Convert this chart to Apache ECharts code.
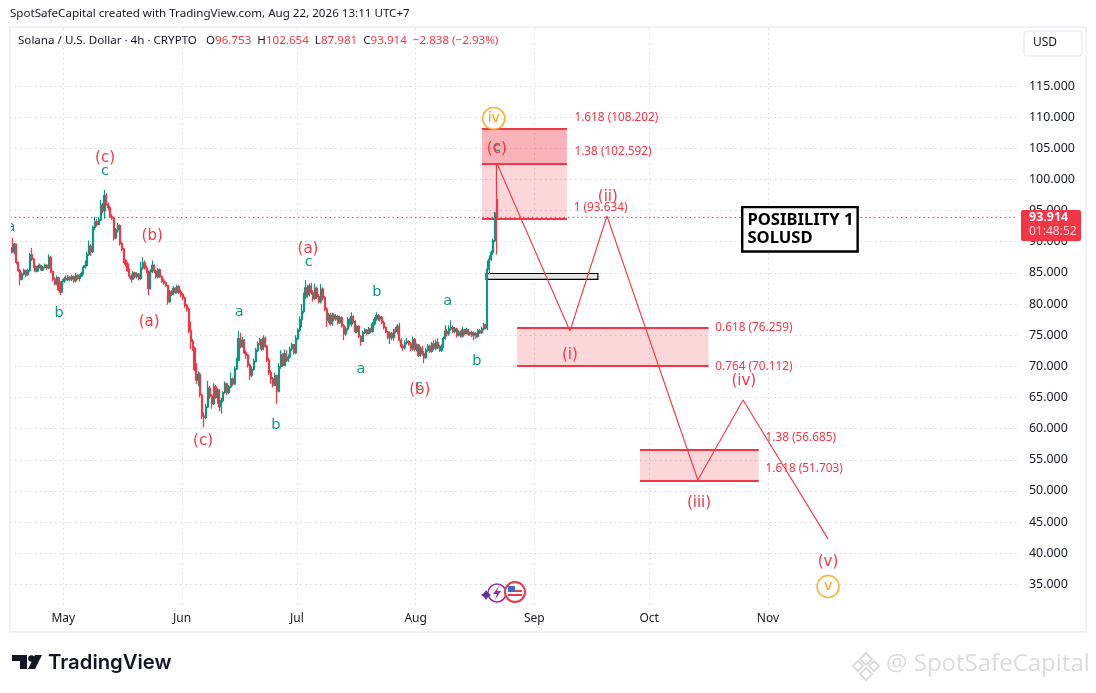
<!DOCTYPE html>
<html><head><meta charset="utf-8">
<style>html,body{margin:0;padding:0;background:#fff}#c{width:1096px;height:693px}</style>
<script src="https://cdn.jsdelivr.net/npm/echarts@6/dist/echarts.min.js"></script>
</head><body><div id="c"></div>
<script>
const candleOpens=[
88.2,89.0,88.4,89.6,86.7,85.4,84.0,84.8,85.4,84.7,
85.4,87.9,87.2,86.0,85.3,85.9,86.2,85.5,85.9,86.2,
85.8,87.5,85.2,84.0,83.2,84.2,82.3,81.9,83.6,84.1,
83.9,84.3,84.0,84.4,83.7,84.6,84.1,84.5,84.9,85.9,
86.2,88.0,89.3,88.4,92.3,93.2,92.8,93.5,95.9,95.0,
97.4,96.0,95.5,94.0,93.8,90.6,91.9,92.6,89.7,88.8,
87.0,86.4,85.4,84.5,84.0,85.0,84.4,84.8,84.1,85.8,
86.6,85.8,85.3,82.5,85.2,86.2,85.3,84.4,85.5,84.4,
83.7,83.4,83.0,80.4,82.0,81.6,82.5,81.9,82.8,81.9,
81.5,81.0,79.8,79.2,75.7,74.0,72.9,69.5,67.8,68.7,
65.4,62.0,61.8,63.5,66.5,65.2,64.0,66.7,65.0,66.2,
63.5,64.5,65.8,67.2,65.8,66.7,68.0,67.2,69.6,71.0,
74.4,73.2,74.2,72.2,71.8,70.2,68.6,69.5,70.8,72.6,
73.6,74.2,72.8,74.5,73.2,71.0,69.0,68.0,67.0,68.5,
66.0,70.0,71.8,70.2,72.0,71.0,71.5,72.8,73.5,72.2,
74.5,75.8,77.5,78.8,81.2,82.6,81.5,82.9,81.8,80.9,
82.5,81.2,80.4,82.4,81.0,79.2,77.4,78.2,76.8,78.2,
77.6,78.0,77.0,77.8,76.5,75.2,76.0,77.5,76.8,78.0,
77.2,75.6,76.4,74.8,74.0,75.4,75.8,75.3,76.0,75.6,
76.8,77.5,78.2,77.6,77.9,77.0,76.2,75.5,74.6,75.3,
74.6,75.8,75.6,76.4,74.2,73.2,73.0,73.8,74.0,73.6,
72.8,74.3,72.7,73.4,71.8,72.9,72.0,71.4,72.6,73.2,
72.4,73.6,72.9,73.8,73.0,72.6,73.2,74.5,75.6,75.2,
76.0,76.2,75.6,76.0,75.0,75.5,74.9,75.8,75.3,75.9,
75.2,75.4,75.0,75.3,74.8,75.7,75.4,76.0,76.6,76.2,
85.6,87.2,88.3,90.2,96.753];
const candleCloses=[
89.0,88.4,89.6,86.7,85.4,84.0,84.8,85.4,84.7,85.4,
87.9,87.2,86.0,85.3,85.9,86.2,85.5,85.9,86.2,85.8,
87.5,85.2,84.0,83.2,84.2,82.3,81.9,83.6,84.1,83.9,
84.3,84.0,84.4,83.7,84.6,84.1,84.5,84.9,85.9,86.2,
88.0,89.3,88.4,92.3,93.2,92.8,93.5,95.9,95.0,97.4,
96.0,95.5,94.0,93.8,90.6,91.9,92.6,89.7,88.8,87.0,
86.4,85.4,84.5,84.0,85.0,84.4,84.8,84.1,85.8,86.6,
85.8,85.3,82.5,85.2,86.2,85.3,84.4,85.5,84.4,83.7,
83.4,83.0,80.4,82.0,81.6,82.5,81.9,82.8,81.9,81.5,
81.0,79.8,79.2,75.7,74.0,72.9,69.5,67.8,68.7,65.4,
62.0,61.8,63.5,66.5,65.2,64.0,66.7,65.0,66.2,63.5,
64.5,65.8,67.2,65.8,66.7,68.0,67.2,69.6,71.0,74.4,
73.2,74.2,72.2,71.8,70.2,68.6,69.5,70.8,72.6,73.6,
74.2,72.8,74.5,73.2,71.0,69.0,68.0,67.0,68.5,66.0,
70.0,71.8,70.2,72.0,71.0,71.5,72.8,73.5,72.2,74.5,
75.8,77.5,78.8,81.2,82.6,81.5,82.9,81.8,80.9,82.5,
81.2,80.4,82.4,81.0,79.2,77.4,78.2,76.8,78.2,77.6,
78.0,77.0,77.8,76.5,75.2,76.0,77.5,76.8,78.0,77.2,
75.6,76.4,74.8,74.0,75.4,75.8,75.3,76.0,75.6,76.8,
77.5,78.2,77.6,77.9,77.0,76.2,75.5,74.6,75.3,74.6,
75.8,75.6,76.4,74.2,73.2,73.0,73.8,74.0,73.6,72.8,
74.3,72.7,73.4,71.8,72.9,72.0,71.4,72.6,73.2,72.4,
73.6,72.9,73.8,73.0,72.6,73.2,74.5,75.6,75.2,76.0,
76.2,75.6,76.0,75.0,75.5,74.9,75.8,75.3,75.9,75.2,
75.4,75.0,75.3,74.8,75.7,75.4,76.0,76.6,76.2,85.6,
87.2,88.3,90.2,94.6,93.914];
const candleHighs=[
89.4,90.6,89.8,89.7,86.8,85.6,85.1,85.7,85.5,85.7,
88.2,89.0,87.4,86.2,86.2,86.5,86.3,86.1,86.5,86.4,
88.0,87.7,85.4,84.3,84.6,84.4,83.6,84.0,84.4,84.6,
84.7,84.5,84.7,84.6,85.0,84.8,84.8,85.2,86.2,87.0,
88.4,90.2,89.6,92.6,94.0,93.6,94.0,96.7,96.2,98.3,
97.8,96.3,95.8,94.4,94.0,92.2,93.0,92.8,90.0,89.0,
87.2,86.7,85.7,84.8,85.3,85.2,85.1,85.0,86.8,87.5,
87.0,86.2,85.4,85.6,87.0,86.4,85.5,85.8,85.7,84.6,
84.0,83.6,83.1,82.3,82.2,82.9,82.7,83.1,83.0,82.3,
81.8,81.2,80.0,79.5,77.2,74.4,73.2,70.5,69.2,69.0,
65.6,62.6,64.0,67.7,66.9,65.5,67.3,67.0,66.5,66.4,
64.9,66.0,67.6,67.4,67.0,69.0,68.2,70.0,71.4,75.7,
75.4,74.7,74.4,72.6,72.0,70.5,70.0,71.2,73.0,74.0,
74.6,74.4,75.0,74.8,73.4,71.4,69.4,68.3,69.0,68.7,
70.5,72.6,72.1,72.7,72.6,71.9,73.2,73.8,73.6,75.0,
76.1,78.0,80.0,81.8,83.8,83.1,83.3,83.4,82.2,83.3,
82.8,81.6,83.2,82.7,81.3,79.5,78.6,78.6,78.6,78.5,
78.4,78.2,78.1,78.0,76.8,76.4,77.9,77.8,78.7,78.2,
77.4,76.6,76.6,75.0,75.7,76.1,76.0,76.3,76.2,77.1,
77.9,78.7,78.4,78.2,78.1,77.3,76.4,75.7,75.6,75.5,
76.0,76.3,76.8,77.0,74.5,73.6,74.2,74.6,74.2,73.9,
74.8,74.5,73.7,73.6,73.2,73.3,72.5,72.9,73.6,73.5,
73.9,74.2,74.3,74.5,73.4,73.5,74.8,76.6,76.0,76.6,
77.4,76.5,76.3,76.2,75.8,75.7,76.3,76.0,76.2,76.0,
75.6,75.7,75.6,75.5,76.0,76.0,76.4,77.0,76.8,87.0,
87.8,88.6,90.5,94.8,102.654];
const candleLows=[
87.6,88.2,88.0,86.4,85.1,83.0,83.8,84.6,84.3,84.5,
85.2,86.9,85.8,85.1,85.1,85.7,85.3,85.3,85.7,85.5,
85.6,85.0,83.7,83.0,83.0,82.1,81.4,81.8,83.4,83.6,
83.7,83.6,83.7,83.4,83.5,83.9,83.6,84.3,84.7,85.7,
86.0,87.7,87.7,88.2,91.9,92.4,92.6,93.3,94.6,93.7,
95.8,95.0,93.8,93.5,90.2,90.4,91.5,89.4,88.5,86.6,
86.0,85.2,84.1,83.4,83.8,84.1,84.1,83.8,83.9,85.5,
85.5,85.0,81.4,82.3,85.0,85.0,84.1,84.1,84.2,83.4,
83.1,82.7,79.9,80.2,81.3,81.4,81.7,81.7,81.6,81.1,
80.6,79.4,78.8,75.3,72.8,72.5,69.2,67.2,66.8,65.0,
61.5,60.2,61.5,63.3,64.8,63.2,63.8,64.8,64.0,62.8,
62.4,64.2,65.6,65.4,65.5,66.5,66.9,67.0,69.4,70.8,
72.9,73.0,72.0,71.2,69.8,67.8,68.2,69.3,70.6,72.3,
73.4,72.5,72.6,73.0,70.7,68.6,67.2,66.6,66.8,64.0,
65.8,69.6,69.9,70.0,70.7,70.7,71.2,72.5,71.9,72.0,
74.2,75.5,76.3,78.5,80.8,81.0,81.2,81.5,80.4,80.6,
80.8,80.1,80.1,80.6,78.9,76.3,77.0,76.5,76.5,77.2,
77.3,76.7,76.8,76.2,74.2,74.9,75.7,76.4,76.4,76.9,
75.3,75.3,74.5,73.3,73.9,75.2,75.0,75.1,75.3,75.4,
76.6,77.3,77.3,77.2,76.8,75.9,75.3,74.3,73.6,74.2,
74.1,75.3,75.1,74.0,72.9,72.5,72.7,73.5,73.3,72.4,
72.5,72.4,72.4,71.5,71.5,71.7,70.5,71.2,72.3,72.1,
72.2,72.6,72.6,72.8,72.3,72.3,73.0,74.3,74.8,74.9,
75.7,75.3,75.3,74.6,74.8,74.6,74.6,75.0,75.1,74.9,
74.9,74.7,74.2,74.4,74.6,75.2,75.2,75.8,75.9,75.8,
84.8,86.9,87.9,89.9,87.981];

// time positions are "days since 1 May"
const firstCandleDay=-13.75, candleStepDays=0.5;
const monthLabels=['May','Jun','Jul','Aug','Sep','Oct','Nov'];
const monthDays=[0,31,61,92,123,153,184];
const priceTicks=[35,40,45,50,55,60,65,70,75,80,85,90,95,100,105,110,115];
const lastPrice=93.914;
const viewDays=[-13.92,249.3];

const projectionDays=[113.2,132.3,141.96,165.7,177.5,199.7];
const projectionPrices=[102.65,75.67,94.13,51.76,64.6,42.3];

const zoneDays=[[109.3,131.5],[118.5,168.5],[150.6,181.6]];
const zoneLight=[[93.634,102.592],[70.112,76.259],[51.703,56.685]];
const zoneDark=[102.592,108.202];
const fibLevelDays=[[109.3,131.5],[109.3,131.5],[109.3,131.5],[118.5,168.5],[118.5,168.5],[150.6,181.6],[150.6,181.6]];
const fibLevelPrices=[108.202,102.592,93.634,76.259,70.112,56.685,51.703];
const fibTexts=['1.618 (108.202)','1.38 (102.592)','1 (93.634)','0.618 (76.259)','0.764 (70.112)','1.38 (56.685)','1.618 (51.703)'];
const fibTextDays=[133.6,133.6,133.4,170.4,170.4,183.5,183.5];
const fibTextPrices=[110.0,104.4,95.4,76.2,69.9,58.6,53.5];
const boxDays=[110.4,139.6], boxPrices=[83.95,84.9];

const redTexts=['(c)','(b)','(a)','(c)','(a)','(b)','(c)','(ii)','(i)','(iv)','(iii)','(v)'];
const redDays=[10.9,23.2,22.4,36.5,63.9,93.1,113.2,142.2,132.3,177.7,166,199.7];
const redPrices=[103.4,90.9,77.1,58.0,88.8,66.2,104.85,97.1,71.8,67.6,48.0,38.6];
const greenTexts=['a','c','b','a','b','c','b','a','a','b','c','c'];
const greenDays=[-13.7,10.9,-1.1,45.9,55.5,64.1,81.9,100.4,77.7,108,92.9,113.2];
const greenPrices=[92.35,101.35,78.45,78.75,60.55,86.75,81.95,80.45,69.55,70.85,66.85,105.25];
const circleTexts=['iv','v'];
const circleDays=[112.4,199.7];
const circlePrices=[109.8,34.65];
const noteText='POSIBILITY 1\nSOLUSD';
const noteDay=[177.6], notePrice=[92.0];

const RED='#f23645', GREEN='#089981', ORANGE='#ff9800';
const labelFont='"DejaVu Sans"', uiFont='"Noto Sans"';
const DOTS=[1.5,3.5], GRIDC='#d6d8dc';

const candleData=candleOpens.map((o,i)=>[firstCandleDay+i*candleStepDays,o,candleCloses[i],candleLows[i],candleHighs[i]]);
const textPoints=(days,prices,texts)=>days.map((d,i)=>({value:[d,prices[i]],label:{formatter:texts[i]}}));
const baseLabel=(color,size)=>({show:true,position:'inside',color,fontSize:size,fontFamily:labelFont,textBorderWidth:0,textBorderColor:'transparent',opacity:1});

function labelSeries(name,days,prices,texts,color,size,extra){
  return Object.assign({name,type:'scatter',symbol:'circle',symbolSize:1,z:6,silent:true,clip:false,
    itemStyle:{color:'rgba(0,0,0,0)',opacity:1},
    label:baseLabel(color,size),
    labelLayout:{hideOverlap:false},
    data:textPoints(days,prices,texts)},extra||{});
}

const zoneAreas=[
  [{coord:[zoneDays[0][0],zoneLight[0][0]]},{coord:[zoneDays[0][1],zoneLight[0][1]]}],
  [{coord:[zoneDays[0][0],zoneDark[0]],itemStyle:{color:'rgba(242,54,69,0.38)'}},{coord:[zoneDays[0][1],zoneDark[1]]}],
  [{coord:[zoneDays[1][0],zoneLight[1][0]]},{coord:[zoneDays[1][1],zoneLight[1][1]]}],
  [{coord:[zoneDays[2][0],zoneLight[2][0]]},{coord:[zoneDays[2][1],zoneLight[2][1]]}],
  [{coord:[boxDays[0],boxPrices[0]],itemStyle:{color:'#e6e6e6',borderColor:'#000',borderWidth:1.2}},{coord:[boxDays[1],boxPrices[1]]}]
];
const fibLines=fibLevelPrices.map((p,i)=>[{coord:[fibLevelDays[i][0],p]},{coord:[fibLevelDays[i][1],p]}]);

const option={
  animation:false,
  backgroundColor:'#fff',
  grid:{left:10,right:78,top:28,bottom:87},
  xAxis:{type:'value',min:viewDays[0],max:viewDays[1],
    axisLine:{show:false},
    axisTick:{show:false,customValues:monthDays},
    splitLine:{show:true,customValues:monthDays,lineStyle:{color:GRIDC,type:DOTS,width:1}},
    axisLabel:{customValues:monthDays,margin:7,color:'#131722',fontSize:12,fontFamily:uiFont,hideOverlap:false,
      formatter:v=>monthLabels[monthDays.indexOf(+v)]||''}
  },
  yAxis:{type:'value',position:'right',min:31.53,max:124.31,
    axisLine:{show:false},
    axisTick:{show:false,customValues:priceTicks},
    splitLine:{show:true,customValues:priceTicks,lineStyle:{color:GRIDC,type:DOTS,width:1}},
    axisLabel:{customValues:priceTicks,margin:11,color:'#131722',fontSize:12.4,fontFamily:uiFont,
      formatter:v=>Number(v).toFixed(3)}
  },
  series:[
    {name:'zones',type:'scatter',data:[],z:1,silent:true,
      markArea:{silent:true,itemStyle:{color:'rgba(242,54,69,0.2)'},data:zoneAreas,z:1},
      markLine:{silent:true,symbol:'none',label:{show:false},lineStyle:{color:RED,width:2,type:'solid'},data:fibLines,z:1}},
    {name:'priceLine',type:'line',z:2,symbol:'none',silent:true,lineStyle:{color:RED,width:1,type:[1.5,3]},
      data:viewDays.map(d=>[d,lastPrice])},
    {name:'SOLUSD',type:'candlestick',z:3,barWidth:1.6,silent:true,
      encode:{x:0,y:[1,2,3,4]},
      itemStyle:{color:GREEN,color0:RED,borderColor:GREEN,borderColor0:RED,borderWidth:1.2},
      data:candleData},
    {name:'projection',type:'line',z:4,symbol:'none',silent:true,lineStyle:{color:RED,width:1.1},
      data:projectionDays.map((d,i)=>[d,projectionPrices[i]])},
    labelSeries('fib',fibTextDays,fibTextPrices,fibTexts,RED,11.8,{label:Object.assign(baseLabel(RED,11.8),{position:'right',distance:-1,fontFamily:uiFont})}),
    labelSeries('green',greenDays,greenPrices,greenTexts,GREEN,14.5),
    labelSeries('red',redDays,redPrices,redTexts,RED,15,{z:7}),
    labelSeries('circled',circleDays,circlePrices,circleTexts,ORANGE,14,{symbolSize:22,itemStyle:{color:'#fff',borderColor:ORANGE,borderWidth:1.5},z:7}),
    labelSeries('note',noteDay,notePrice,[noteText],'#000',16.6,{z:8,
      label:Object.assign(baseLabel('#000',16.6),{position:'inside',fontWeight:'bold',fontFamily:uiFont,lineHeight:18,align:'left',verticalAlign:'middle',
        backgroundColor:'#fff',borderColor:'#000',borderWidth:2.4,padding:[4,3,2,4]})})
  ],
  graphic:[
    {type:'rect',z:50,shape:{x:0,y:0,width:9,height:640},style:{fill:'#fff'}},
    {type:'rect',z:51,shape:{x:10,y:27,width:1076,height:605},style:{fill:'none',stroke:'#f0f2f5',lineWidth:2}},
    {type:'text',z:52,x:10,y:8,style:{text:'SpotSafeCapital created with TradingView.com, Aug 22, 2026 13:11 UTC+7',fill:'#131722',font:'11.6px '+uiFont}},
    {type:'text',z:52,x:18,y:35,style:{
      text:'{k|Solana / U.S. Dollar · 4h · CRYPTO   O}{r|96.753}{k|  H}{r|102.654}{k|  L}{r|87.981}{k|  C}{r|93.914}{r|  −2.838 (−2.93%)}',
      rich:{k:{fill:'#131722',font:'11.6px '+uiFont},r:{fill:RED,font:'11.6px '+uiFont}}}},
    {type:'rect',z:52,shape:{x:1024,y:31,width:58,height:25,r:3},style:{fill:'#fff',stroke:'#e0e3eb',lineWidth:1}},
    {type:'text',z:53,x:1033,y:37,style:{text:'USD',fill:'#131722',font:'12px '+uiFont}},
    {type:'rect',z:60,shape:{x:1021,y:210,width:60,height:31,r:2},style:{fill:RED}},
    {type:'text',z:61,x:1029,y:211,style:{text:'93.914',fill:'#fff',font:'bold 12.5px '+uiFont}},
    {type:'text',z:61,x:1029,y:226,style:{text:'01:48:52',fill:'#ffd3d8',font:'12px '+uiFont}},
    {type:'circle',z:40,shape:{cx:497,cy:593,r:9},style:{fill:'#fff',stroke:'#9c27b0',lineWidth:1.5}},
    {type:'polygon',z:41,shape:{points:[[499,586],[493,594],[497,594],[495,600],[501,591],[497,591]]},style:{fill:'#9c27b0'}},
    {type:'polygon',z:41,shape:{points:[[486,590],[488,593],[491,595],[488,597],[486,600],[484,597],[481,595],[484,593]]},style:{fill:'#5e2ca5'}},
    {type:'circle',z:42,shape:{cx:515,cy:592,r:10},style:{fill:'#fff',stroke:RED,lineWidth:2}},
    {type:'rect',z:43,shape:{x:508,y:590,width:14,height:2},style:{fill:RED}},
    {type:'rect',z:43,shape:{x:508,y:594,width:14,height:2},style:{fill:RED}},
    {type:'rect',z:44,shape:{x:508,y:586,width:7,height:6},style:{fill:'#3f6fc4'}},
    {type:'polygon',z:30,shape:{points:[[12,655],[27,655],[27,669],[20,669],[20,661],[12,661]]},style:{fill:'#131722'}},
    {type:'circle',z:30,shape:{cx:31.5,cy:658.5,r:3.3},style:{fill:'#131722'}},
    {type:'polygon',z:30,shape:{points:[[35,655],[42,655],[35,669],[28,669]]},style:{fill:'#131722'}},
    {type:'text',z:30,x:48,y:653,style:{text:'TradingView',fill:'#131722',font:'600 20.3px Inter'}},
    {type:'text',z:30,x:886,y:652,style:{text:'@ SpotSafeCapital',fill:'#dcdcdc',font:'24px "Open Sans"'}},
    {type:'polygon',z:30,shape:{points:[[866,653],[872,659],[866,665],[860,659]]},style:{fill:'none',stroke:'#dcdcdc',lineWidth:2}},
    {type:'polygon',z:30,shape:{points:[[858,661],[863,666],[858,671],[853,666]]},style:{fill:'none',stroke:'#dcdcdc',lineWidth:2}},
    {type:'polygon',z:30,shape:{points:[[874,661],[879,666],[874,671],[869,666]]},style:{fill:'none',stroke:'#dcdcdc',lineWidth:2}},
    {type:'polygon',z:30,shape:{points:[[866,668],[872,674],[866,680],[860,674]]},style:{fill:'none',stroke:'#dcdcdc',lineWidth:2}}
  ]
};
const chart=echarts.init(document.getElementById('c'),null,{renderer:'canvas'});
chart.setOption(option);
</script></body></html>
